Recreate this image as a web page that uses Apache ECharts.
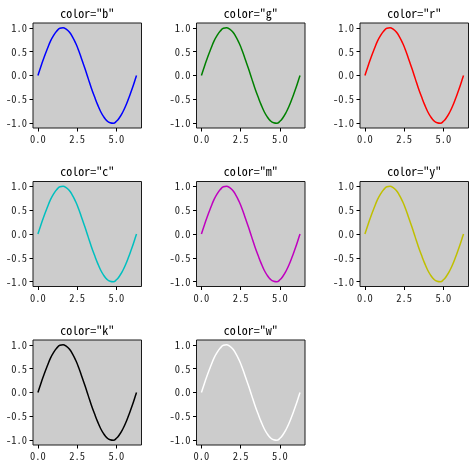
<!DOCTYPE html>
<html>
<head>
<meta charset="utf-8">
<script src="https://cdn.jsdelivr.net/npm/echarts@6/dist/echarts.min.js"></script>
<style>
html,body{margin:0;padding:0;background:#fff;}
#main{width:474px;height:467px;}
</style>
</head>
<body>
<div id="main"></div>
<script>
// Data (one sine period per panel)
const xValues = [0,0.2,0.4,0.6,0.8,1.0,1.2,1.4,1.6,1.8,2.0,2.2,2.4,2.6,2.8,3.0,3.2,3.4,3.6,3.8,4.0,4.2,4.4,4.6,4.8,5.0,5.2,5.4,5.6,5.8,6.0,6.2,6.28];
const yValues = [0,0.20,0.39,0.56,0.72,0.84,0.93,0.99,1.00,0.97,0.91,0.81,0.68,0.52,0.33,0.14,-0.06,-0.26,-0.44,-0.61,-0.76,-0.87,-0.95,-0.99,-1.00,-0.96,-0.88,-0.77,-0.63,-0.46,-0.28,-0.08,0.00];
const panelNames = ['b','g','r','c','m','y','k','w'];
const panelColors = ['#0000ff','#008000','#ff0000','#00bfbf','#bf00bf','#bfbf00','#000000','#ffffff'];
const xTicks = [0, 2.5, 5.0];
const yTicks = [-1.0, -0.5, 0.0, 0.5, 1.0];

const FONT = "'Noto Sans Mono CJK JP', 'DejaVu Sans Mono', monospace";
const colLeft = [33, 196.5, 360];
const rowTop = [23, 181.5, 340];
const W = 108.5, H = 105;

const grids = [], xAxes = [], yAxes = [], series = [], texts = [];
panelNames.forEach((name, i) => {
  const r = Math.floor(i / 3), c = i % 3;
  grids.push({
    left: colLeft[c], top: rowTop[r], width: W, height: H,
    show: true, backgroundColor: '#cccccc', borderColor: '#1a1a1a', borderWidth: 1
  });
  xAxes.push({
    type: 'value', gridIndex: i, min: -0.314, max: 6.597,
    axisLine: { show: false, onZero: false },
    splitLine: { show: false },
    axisTick: { show: true, inside: false, length: 3.5, lineStyle: { color: '#000' }, customValues: xTicks },
    axisLabel: { customValues: xTicks, margin: 6, fontSize: 10.5, color: '#1a1a1a', fontFamily: FONT,
      formatter: v => v.toFixed(1) }
  });
  yAxes.push({
    type: 'value', gridIndex: i, min: -1.1, max: 1.1,
    axisLine: { show: false, onZero: false },
    splitLine: { show: false },
    axisTick: { show: true, inside: false, length: 3.5, lineStyle: { color: '#000' }, customValues: yTicks },
    axisLabel: { customValues: yTicks, margin: 6, fontSize: 10.5, color: '#1a1a1a', fontFamily: FONT,
      formatter: v => v.toFixed(1) }
  });
  series.push({
    type: 'line', xAxisIndex: i, yAxisIndex: i,
    data: xValues.map((x, k) => [x, yValues[k]]),
    smooth: true, showSymbol: false, silent: true,
    lineStyle: { color: panelColors[i], width: 1.5 },
    itemStyle: { color: panelColors[i] }
  });
  texts.push({
    type: 'text',
    x: colLeft[c] + W / 2, y: rowTop[r] - 10,
    style: { text: 'color="' + name + '"', align: 'center', verticalAlign: 'middle',
      fontSize: 12, fontFamily: FONT, fill: '#000' }
  });
});

const chart = echarts.init(document.getElementById('main'), null, { renderer: 'canvas' });
chart.setOption({
  animation: false,
  backgroundColor: '#ffffff',
  graphic: texts,
  grid: grids,
  xAxis: xAxes,
  yAxis: yAxes,
  series: series
});
</script>
</body>
</html>
